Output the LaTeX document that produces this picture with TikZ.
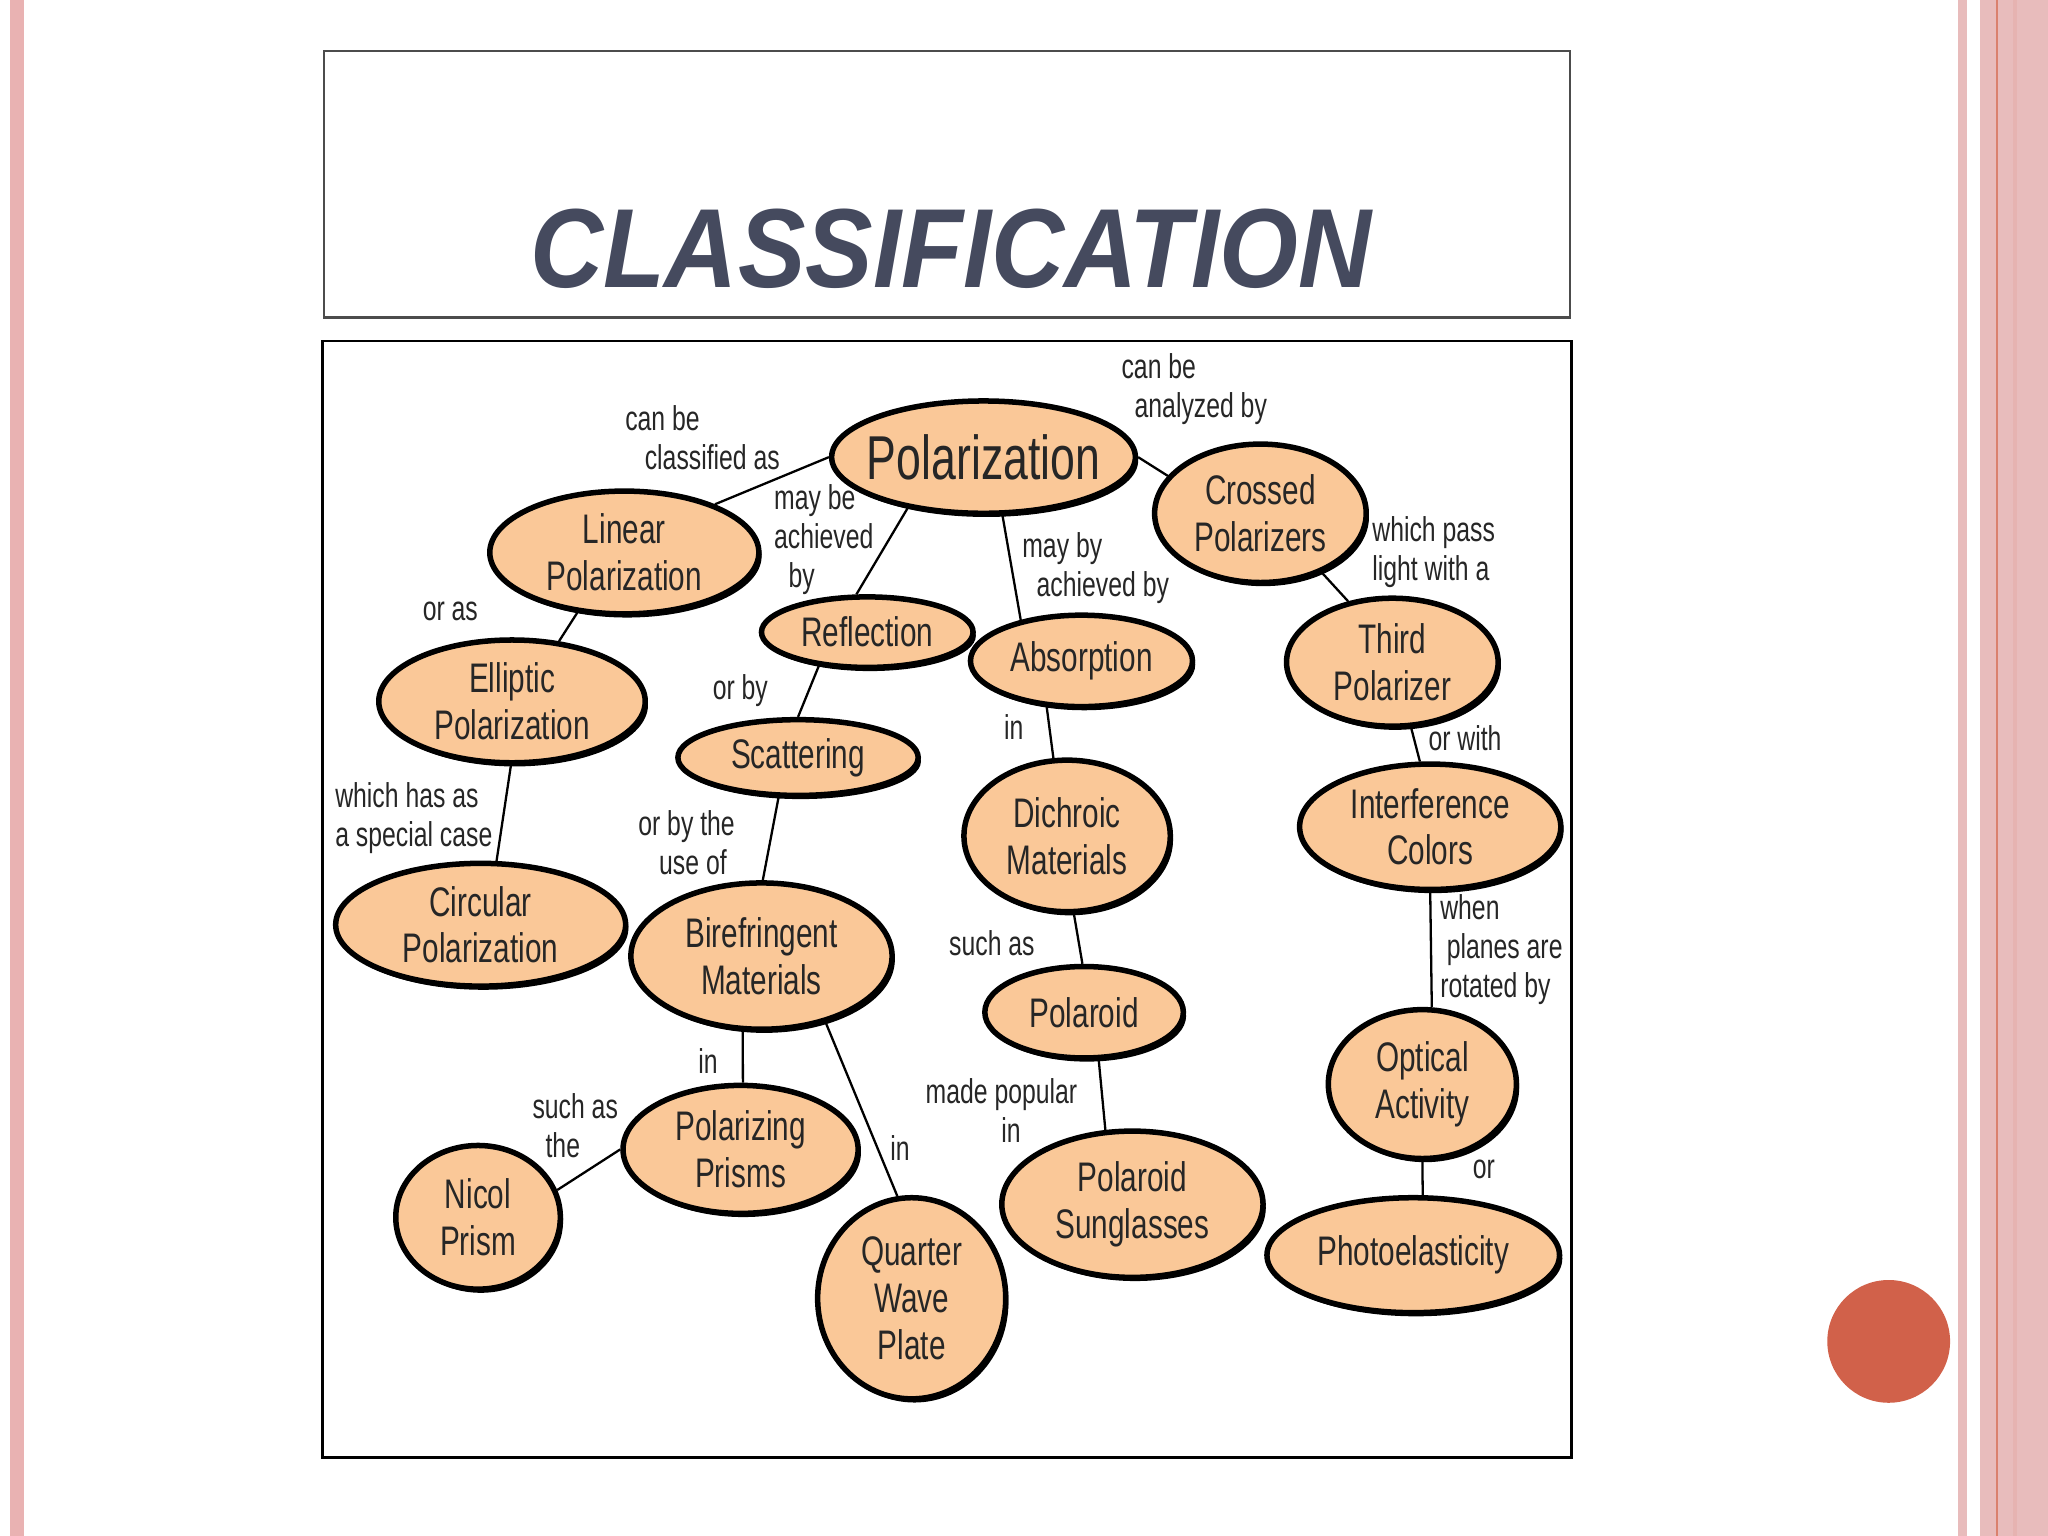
\documentclass[tikz,border=0pt]{standalone}
\usepackage{fontspec}
\setmainfont{Liberation Sans}
\newfontfamily\mapfont[FakeStretch=0.72]{Liberation Sans}
\newfontfamily\titlefont[FakeStretch=0.9]{Liberation Sans}
\usetikzlibrary{shapes.geometric}
\usetikzlibrary{positioning}
\usetikzlibrary{shadows}
\definecolor{peach}{RGB}{250,200,152}
\definecolor{slate}{RGB}{69,74,94}
\definecolor{rosepink}{RGB}{232,188,188}
\definecolor{brick}{RGB}{209,97,74}
\tikzstyle{concept} = [ellipse, draw=black, line width=1.2pt, fill=peach, text=black!85, align=center, inner sep=0pt, font=\mapfont\fontsize{9}{10.2}\selectfont, drop shadow={shadow xshift=0.6pt, shadow yshift=-0.8pt, fill=black, opacity=1}]
\tikzstyle{phrase} = [inner sep=0pt, align=left, anchor=west, text=black!85, font=\mapfont\fontsize{7.5}{8.5}\selectfont]
\tikzstyle{link} = [line width=0.5pt]
\begin{document}
\begin{tikzpicture}[node distance=1cm, on grid]
	\useasboundingbox (0,0) rectangle (15.68,-11.76);
	% slide border
	\fill[rosepink!95!red] (0.08,0) rectangle (0.18,-11.76);
	\fill[rosepink] (14.99,0) rectangle (15.06,-11.76);
	\fill[rosepink] (15.16,0) rectangle (15.68,-11.76);
	\draw[brick!80, line width=0.6pt] (15.29,0) -- (15.29,-11.76);
	\fill[rosepink!90!brick] (15.41,0) rectangle (15.44,-11.76);
	\fill[brick] (14.46,-10.27) circle (0.47);
	% title
	\draw[black!70, line width=0.5pt] (2.48,-0.39) rectangle (12.02,-2.43);
	\node (title) [anchor=base, text=slate, font=\titlefont\fontsize{24.5}{28}\selectfont\bfseries\itshape] at (7.28,-2.20) {CLASSIFICATION};
	\draw[line width=0.6pt] (2.47,-2.61) rectangle (12.03,-11.16);
	% concepts
	\node (pol) [concept, minimum width=2.26cm, minimum height=0.86cm, inner xsep=-2pt, font=\mapfont\fontsize{13.5}{15}\selectfont] at (7.53,-3.50) {Polarization};
	\node (lin) [concept, minimum width=2.06cm, minimum height=0.94cm, below left=0.73cm and 2.75cm of pol] {Linear\\Polarization};
	\node (cro) [concept, minimum width=1.62cm, minimum height=1.06cm, below right=0.43cm and 2.12cm of pol] {Crossed\\Polarizers};
	\node (ref) [concept, minimum width=1.62cm, minimum height=0.54cm, below left=1.34cm and 0.89cm of pol] {Reflection};
	\node (abs) [concept, minimum width=1.70cm, minimum height=0.70cm, below right=1.56cm and 0.75cm of pol] {Absorption};
	\node (thi) [concept, minimum width=1.62cm, minimum height=0.98cm, below right=1.14cm and 1.01cm of cro] {Third\\Polarizer};
	\node (ell) [concept, minimum width=2.04cm, minimum height=0.94cm, below left=1.14cm and 0.86cm of lin] {Elliptic\\Polarization};
	\node (sca) [concept, minimum width=1.84cm, minimum height=0.58cm, below left=0.96cm and 0.53cm of ref] {Scattering};
	\node (dic) [concept, minimum width=1.58cm, minimum height=1.16cm, below left=1.34cm and 0.11cm of abs] {Dichroic\\Materials};
	\node (int) [concept, minimum width=2.00cm, minimum height=0.96cm, below right=1.26cm and 0.29cm of thi] {Interference\\Colors};
	\node (cir) [concept, minimum width=2.22cm, minimum height=0.94cm, below left=1.71cm and 0.24cm of ell] {Circular\\Polarization};
	\node (bir) [concept, minimum width=2.00cm, minimum height=1.12cm, below left=1.52cm and 0.28cm of sca] {Birefringent\\Materials};
	\node (pld) [concept, minimum width=1.52cm, minimum height=0.70cm, below right=1.35cm and 0.13cm of dic] {Polaroid};
	\node (opt) [concept, minimum width=1.44cm, minimum height=1.14cm, below left=1.97cm and 0.06cm of int] {Optical\\Activity};
	\node (pri) [concept, minimum width=1.80cm, minimum height=0.98cm, below left=1.48cm and 0.16cm of bir] {Polarizing\\Prisms};
	\node (nic) [concept, minimum width=1.26cm, minimum height=1.10cm, below left=0.52cm and 2.01cm of pri] {Nicol\\Prism};
	\node (qwp) [concept, minimum width=1.44cm, minimum height=1.54cm, below right=2.62cm and 1.15cm of bir] {Quarter\\Wave\\Plate};
	\node (sun) [concept, minimum width=2.00cm, minimum height=1.12cm, below right=1.47cm and 0.37cm of pld] {Polaroid\\Sunglasses};
	\node (pho) [concept, minimum width=2.24cm, minimum height=0.88cm, below left=1.31cm and 0.07cm of opt] {Photoelasticity};
	% links
	\draw [link] (pol.west) -- (lin.28);
	\draw [link] (pol.east) -- (cro.158);
	\draw [link] (pol.214) -- (ref.106);
	\draw [link] (pol.288) -- (abs.146);
	\draw [link] (cro.316) -- (thi.126);
	\draw [link] (lin.232) -- (ell.52);
	\draw [link] (ref.215) -- (sca.90);
	\draw [link] (abs.233) -- (dic.100);
	\draw [link] (thi.286) -- (int.99);
	\draw [link] (ell.269) -- (cir.76);
	\draw [link] (sca.244) -- (bir.89);
	\draw [link] (dic.275) -- (pld.92);
	\draw [link] (int.270) -- (opt.83);
	\draw [link] (bir.256) -- (pri.88);
	\draw [link] (bir.314) -- (qwp.98);
	\draw [link] (pri.west) -- (nic.19);
	\draw [link] (pld.287) -- (sun.110);
	\draw [link] (opt.270) -- (pho.81);
	% link phrases
	\node (p1) [phrase] at (4.78,-3.35) {can be\\\hspace*{0.15cm}classified as};
	\node (p2) [phrase] at (5.92,-4.13) {may be\\achieved\\\hspace*{0.11cm}by};
	\node (p3) [phrase] at (8.58,-2.98) {can be\\\hspace*{0.10cm}analyzed by};
	\node (p4) [phrase] at (7.82,-4.35) {may by\\\hspace*{0.11cm}achieved by};
	\node (p5) [phrase] at (10.50,-4.23) {which pass\\light with a};
	\node (p6) [phrase] at (3.23,-4.68) {or as};
	\node (p7) [phrase] at (5.45,-5.29) {or by};
	\node (p8) [phrase] at (7.68,-5.57) {in};
	\node (p9) [phrase] at (10.93,-5.65) {or with};
	\node (p10) [phrase] at (2.56,-6.26) {which has as\\a special case};
	\node (p11) [phrase] at (4.88,-6.45) {or by the\\\hspace*{0.16cm}use of};
	\node (p12) [phrase] at (7.26,-7.22) {such as};
	\node (p13) [phrase] at (11.02,-7.27) {when\\\hspace*{0.05cm}planes are\\rotated by};
	\node (p14) [phrase] at (5.34,-8.12) {in};
	\node (p15) [phrase] at (4.07,-8.62) {such as\\\hspace*{0.10cm}the};
	\node (p16) [phrase] at (6.81,-8.79) {in};
	\node (p17) [phrase] at (7.08,-8.50) {made popular\\\hspace*{0.58cm}in};
	\node (p18) [phrase] at (11.27,-8.95) {or};
\end{tikzpicture}
\end{document}
